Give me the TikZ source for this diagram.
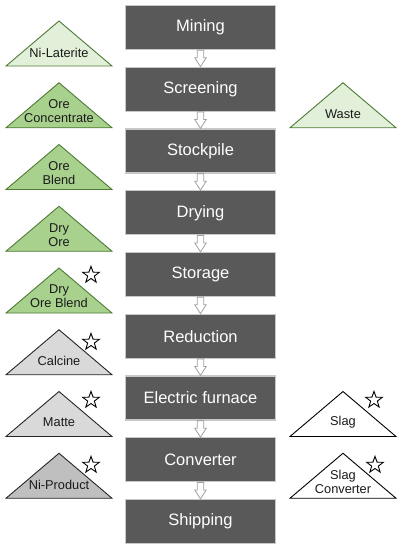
\documentclass[tikz,border=0pt]{standalone}
\usepackage{fontspec}
\setmainfont{Liberation Sans}
\usetikzlibrary{shapes.geometric,calc}
\definecolor{boxfill}{HTML}{595959}
\definecolor{boxline}{HTML}{C8C8C8}
\definecolor{lgreen}{HTML}{E2F0D9}
\definecolor{mgreen}{HTML}{A9D18E}
\definecolor{dgreen}{HTML}{4E7A34}
\definecolor{lgray}{HTML}{D9D9D9}
\definecolor{mgray}{HTML}{BFBFBF}
\definecolor{arrline}{HTML}{A0A0A0}
\definecolor{txt}{HTML}{1A1A1A}
\newcommand\mytri[3]{\draw[#3] ({#1-53},#2) -- (#1,{#2-45}) -- ({#1+53},#2) -- cycle;}
\tikzset{
  stepbox/.style={draw=boxline, fill=boxfill, line width=1.2pt, minimum width=150pt, minimum height=44pt, text=white, font=\fontsize{16.5}{19}\selectfont, inner sep=0pt},
  trilabel/.style={text=txt, font=\fontsize{12.8}{14}\selectfont, align=center, inner sep=0pt},
  greenL/.style={fill=lgreen, draw=dgreen, line width=0.9pt},
  greenM/.style={fill=mgreen, draw=dgreen, line width=0.9pt},
  grayL/.style={fill=lgray, draw=black!85, line width=0.9pt},
  grayM/.style={fill=mgray, draw=black!85, line width=0.9pt},
  whiteT/.style={fill=white, draw=black, line width=0.9pt},
  hstar/.style={star, star points=5, star point ratio=2.5, minimum size=17.5pt, inner sep=0pt, draw=black, line width=0.9pt, fill=white},
  blockarrow/.style={fill=white, draw=arrline, line width=0.8pt, line join=miter,
    to path={let \p1=(\tikztostart), \p2=(\tikztotarget) in
      (\x1-3.2pt,\y1) -- (\x1+3.2pt,\y1) -- (\x1+3.2pt,\y2+9pt) -- (\x1+5.8pt,\y2+9pt)
      -- (\x1,\y2) -- (\x1-5.8pt,\y2+9pt) -- (\x1-3.2pt,\y2+9pt) -- cycle}}
}
\begin{document}
\begin{tikzpicture}[x=1pt,y=-1pt]
\path[use as bounding box] (0,0) rectangle (401,550);

% process boxes
\node[stepbox] (b1) at (200.5,27.5) {Mining};
\node[stepbox] (b2) at (200.5,89.25) {Screening};
\node[stepbox] (b3) at (200.5,151) {Stockpile};
\node[stepbox] (b4) at (200.5,212.75) {Drying};
\node[stepbox] (b5) at (200.5,274.5) {Storage};
\node[stepbox] (b6) at (200.5,336.25) {Reduction};
\node[stepbox] (b7) at (200.5,398) {Electric furnace};
\node[stepbox] (b8) at (200.5,459.75) {Converter};
\node[stepbox] (b9) at (200.5,521.5) {Shipping};

% arrows
\foreach \a/\b in {b1/b2,b2/b3,b3/b4,b4/b5,b5/b6,b6/b7,b7/b8,b8/b9}
  \draw[blockarrow] (\a.south) to (\b.north);

% left triangles
\mytri{59}{66}{greenL}
\node[trilabel] (t1) at (59,53) {Ni-Laterite};
\mytri{59}{127.75}{greenM}
\node[trilabel] (t2) at (59,111.5) {Ore\\Concentrate};
\mytri{59}{189.5}{greenM}
\node[trilabel] (t3) at (59,173) {Ore\\Blend};
\mytri{59}{251.25}{greenM}
\node[trilabel] (t4) at (59,234.75) {Dry\\Ore};
\mytri{59}{313}{greenM}
\node[trilabel] (t5) at (59,296.5) {Dry\\Ore Blend};
\mytri{59}{374.75}{grayL}
\node[trilabel] (t6) at (59,361) {Calcine};
\mytri{59}{436.5}{grayL}
\node[trilabel] (t7) at (59,422.5) {Matte};
\mytri{59}{498.25}{grayM}
\node[trilabel] (t8) at (59,484.5) {Ni-Product};

% right triangles
\mytri{343}{127.75}{greenL}
\node[trilabel] (r1) at (343,114) {Waste};
\mytri{343}{436.5}{whiteT}
\node[trilabel] (r2) at (343,422.5) {Slag};
\mytri{343}{498.25}{whiteT}
\node[trilabel] (r3) at (343,481.5) {Slag\\Converter};

% stars
\node[hstar] (s1) at (91,275) {};
\node[hstar] (s2) at (91,342) {};
\node[hstar] (s3) at (91,400) {};
\node[hstar] (s4) at (91,465) {};
\node[hstar] (s5) at (374,400) {};
\node[hstar] (s6) at (375,465) {};
\end{tikzpicture}
\end{document}
